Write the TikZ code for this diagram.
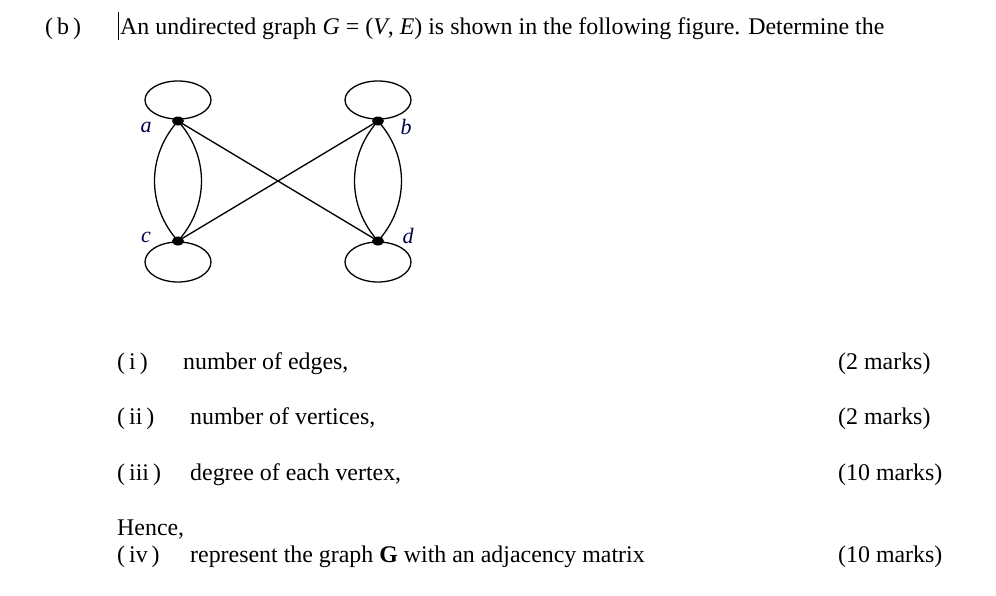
\documentclass[tikz,border=0pt]{standalone}
\usepackage{fontspec}
\setmainfont{Liberation Serif}
\usetikzlibrary{shapes.geometric}
\begin{document}
\begin{tikzpicture}[x=1pt,y=-1pt,
  txt/.style={anchor=base west,inner sep=0pt,font=\fontsize{23.9}{28}\selectfont},
  vtx/.style={ellipse,fill=black,inner sep=0pt,minimum width=12pt,minimum height=9pt},
  lbl/.style={inner sep=0pt,font=\fontsize{22}{26}\selectfont\itshape,text=black!70!blue},
  ed/.style={line width=1.3pt}]
\useasboundingbox (0,0) rectangle (996,595);
\node[txt] (hb) at (45,34) {(\,b\,)};
\draw[line width=0.8pt] (118,12) -- (118,40);
\node[txt] (head) at (120,34) {An undirected graph \textit{G} = (\textit{V}, \textit{E}) is shown in the following figure. Determine the};
% graph
\node[vtx] (a) at (178,121) {};
\node[vtx] (b) at (378,121) {};
\node[vtx] (c) at (178,241) {};
\node[vtx] (d) at (378,241) {};
\draw[ed] (178,100) ellipse (33 and 19);
\draw[ed] (378,100) ellipse (33 and 19);
\draw[ed] (178,262) ellipse (33 and 20);
\draw[ed] (378,262) ellipse (33 and 20);
\draw[ed] (a.center) to[bend right=42] (c.center);
\draw[ed] (a.center) to[bend left=42] (c.center);
\draw[ed] (b.center) to[bend right=42] (d.center);
\draw[ed] (b.center) to[bend left=42] (d.center);
\draw[ed] (a.center) -- (d.center);
\draw[ed] (c.center) -- (b.center);
\node[lbl] (la) at (146,127) {a};
\node[lbl] (lb) at (406,127) {b};
\node[lbl] (lc) at (146,237) {c};
\node[lbl] (ld) at (408,236) {d};
% items
\node[txt] (i1) at (117,369) {(\,i\,)};
\node[txt] (t1) at (183,369) {number of edges,};
\node[txt] (m1) at (838,369) {(2 marks)};
\node[txt] (i2) at (117,424) {(\,ii\,)};
\node[txt] (t2) at (190,424) {number of vertices,};
\node[txt] (m2) at (838,424) {(2 marks)};
\node[txt] (i3) at (117,480) {(\,iii\,)};
\node[txt] (t3) at (190,480) {degree of each vertex,};
\node[txt] (m3) at (838,480) {(10 marks)};
\node[txt] (h) at (117,535) {Hence,};
\node[txt] (i4) at (117,562) {(\,iv\,)};
\node[txt] (t4) at (190,562) {represent the graph \textbf{G} with an adjacency matrix};
\node[txt] (m4) at (838,562) {(10 marks)};
\end{tikzpicture}
\end{document}
